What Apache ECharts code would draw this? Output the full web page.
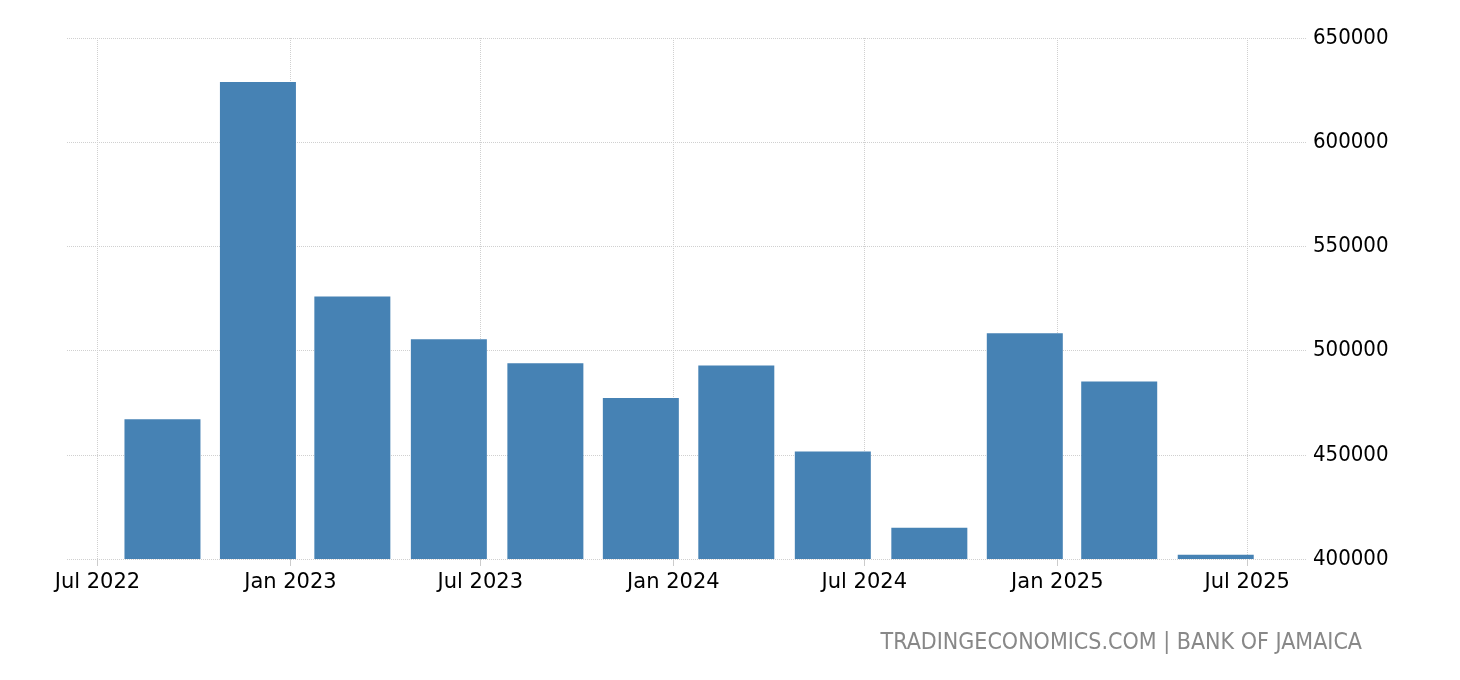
<!DOCTYPE html>
<html>
<head>
<meta charset="utf-8">
<script src="https://cdn.jsdelivr.net/npm/echarts@6/dist/echarts.min.js"></script>
<style>
html,body{margin:0;padding:0;background:#fff;}
#chart{width:1460px;height:680px;}
</style>
</head>
<body>
<div id="chart"></div>
<script>
var dates = ['2022-09-01','2022-12-01','2023-03-01','2023-06-01','2023-09-01','2023-12-01','2024-03-01','2024-06-01','2024-09-01','2024-12-01','2025-03-01','2025-06-01'];
var values = [467000, 628900, 526000, 505400, 493900, 477300, 492900, 451600, 415000, 508300, 485200, 402000];
var monthNames = ['Jan','Feb','Mar','Apr','May','Jun','Jul','Aug','Sep','Oct','Nov','Dec'];
var yMin = 400000, yMax = 650000, yStep = 50000;
var xMin = '2022-06-02', xMax = '2025-08-27';
var footer = 'TRADINGECONOMICS.COM | BANK OF JAMAICA';

var FONT_C = '"DejaVu Sans Condensed", "DejaVu Sans", sans-serif';
var FONT = '"DejaVu Sans", sans-serif';
var DAY = 86400000;
var GRID_L = 67, GRID_R = 153, W = 1460, BAR_W = 76;
function ts(s){ var p = s.split('-'); return Date.UTC(+p[0], +p[1]-1, +p[2]); }

// ECharts widens a bar series' base axis by the bar overflow; pre-shrink the
// requested extent so the final visible extent equals [xMin, xMax].
var axisLen = W - GRID_L - GRID_R;
var wantMin = ts(xMin), wantMax = ts(xMax);
var shrink = (wantMax - wantMin) * (BAR_W / axisLen) / 2;
var setMin = wantMin + shrink, setMax = wantMax - shrink;

var chart = echarts.init(document.getElementById('chart'));
chart.setOption({
  animation: false,
  useUTC: true,
  backgroundColor: '#fff',
  grid: { left: GRID_L, right: GRID_R, top: 38, bottom: 121, containLabel: false },
  graphic: [{
    type: 'text', right: 98, top: 632,
    style: { text: footer, fill: '#888888', font: '23px ' + FONT_C }
  }],
  xAxis: {
    type: 'time',
    min: setMin, max: setMax,
    minInterval: 180 * DAY, maxInterval: 186 * DAY,
    axisLine: { show: false },
    axisTick: { show: true, length: 7, lineStyle: { color: '#cccccc' } },
    axisLabel: {
      margin: 13, showMinLabel: false, showMaxLabel: false,
      color: '#000', fontSize: 21, fontFamily: FONT,
      formatter: function (v) { var d = new Date(v); return monthNames[d.getUTCMonth()] + ' ' + d.getUTCFullYear(); }
    },
    splitLine: { show: true, showMinLine: false, showMaxLine: false, lineStyle: { color: '#d0d0d0', type: 'dotted', width: 1 } }
  },
  yAxis: {
    type: 'value', position: 'right',
    min: yMin, max: yMax, interval: yStep,
    axisLine: { show: false }, axisTick: { show: false },
    axisLabel: { margin: 6, color: '#000', fontSize: 22, fontFamily: FONT_C, formatter: function (v) { return String(v); } },
    splitLine: { show: true, lineStyle: { color: '#d0d0d0', type: 'dotted', width: 1 } }
  },
  series: [{
    type: 'bar',
    data: dates.map(function (d, i) { return [ts(d), values[i]]; }),
    barWidth: BAR_W,
    itemStyle: { color: '#4682b4' }
  }]
});
</script>
</body>
</html>
